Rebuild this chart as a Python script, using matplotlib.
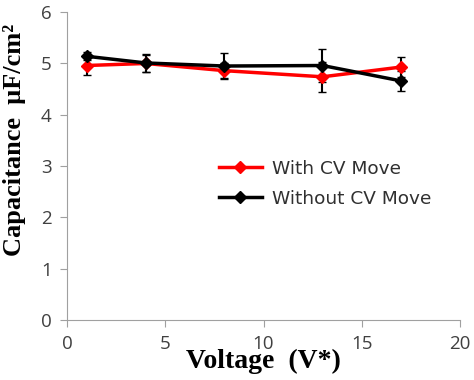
import matplotlib.pyplot as plt

# data
voltage = [1, 4, 8, 13, 17]
cap_with = [4.96, 5.00, 4.86, 4.74, 4.93]
err_with = [0.18, 0.17, 0.15, 0.29, 0.19]
cap_without = [5.14, 5.01, 4.95, 4.96, 4.66]
err_without = [0.08, 0.18, 0.25, 0.32, 0.20]

fig = plt.figure(figsize=(4.74, 3.8), dpi=100)
ax = fig.add_axes([0.1414, 0.158, 0.8291, 0.81])

# error bars first, then the lines with diamond markers
ax.errorbar(voltage, cap_with, yerr=err_with, fmt='none', ecolor='black',
            capsize=3, elinewidth=1.5, zorder=2)
ax.errorbar(voltage, cap_without, yerr=err_without, fmt='none', ecolor='black',
            capsize=3, elinewidth=1.5, zorder=2)
ax.plot(voltage, cap_with, color='red', marker='D', markersize=6,
        linewidth=2.5, label='With CV Move', zorder=3)
ax.plot(voltage, cap_without, color='black', marker='D', markersize=6,
        linewidth=2.5, label='Without CV Move', zorder=4)

ax.set_xlim(0, 20)
ax.set_ylim(0, 6)
ax.set_xticks([0, 5, 10, 15, 20])
ax.set_yticks([0, 1, 2, 3, 4, 5, 6])

for s in ['top', 'right']:
    ax.spines[s].set_visible(False)
for s in ['left', 'bottom']:
    ax.spines[s].set_color('#a0a0a0')
ax.tick_params(colors='#a0a0a0', length=5, labelcolor='#404040',
               labelsize=13.5, pad=6)
for lab in ax.get_xticklabels() + ax.get_yticklabels():
    lab.set_family('Open Sans')

ax.set_xlabel('Voltage  (V*)', family='Liberation Serif', fontweight='bold',
              fontsize=20)
ax.xaxis.set_label_coords(0.5, -0.095)
ax.set_ylabel('Capacitance  μF/cm²', family='Liberation Serif',
              fontweight='bold', fontsize=19)
ax.yaxis.set_label_coords(-0.105, 0.585)

leg = ax.legend(loc='upper left', bbox_to_anchor=(0.345, 0.575), frameon=False,
                prop={'family': 'DejaVu Sans', 'size': 13.3}, handlelength=2.3,
                handletextpad=0.55, labelspacing=0.65)
for t in leg.get_texts():
    t.set_color('#303030')

fig.savefig('out.png', dpi=100)
